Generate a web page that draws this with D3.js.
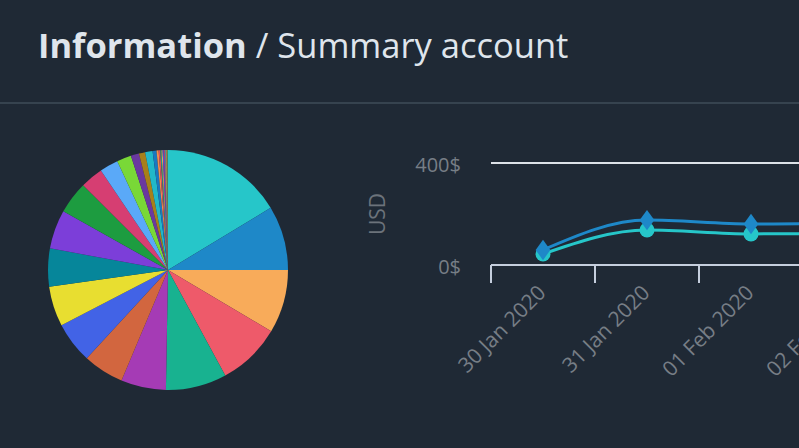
<!DOCTYPE html>
<html><head><meta charset="utf-8">
<script src="https://cdn.jsdelivr.net/npm/d3@7"></script>
<style>
body{margin:0;background:#1f2935;overflow:hidden;font-family:"Open Sans",sans-serif;}
</style></head><body>
<svg id="chart" width="799" height="448"></svg>
<script>
// pie shares (read as degrees of the circle)
var pieValues = [58.8,31.2,30.7,30.8,29.5,21.8,19.8,20,19.4,18.4,18.9,15.7,11,9,7,4,3,3.6,1.9,1,0.8,0.6,0.5,0.5,0.4,0.4,0.3,0.3,0.3,0.2,0.2];
var pieColors = ["#26c6c9","#1e88c8","#f8ab5a","#ee5a6a","#18b290","#a53bb5","#d2663f","#4263e6","#e8de30","#06869a","#7c3ed9","#1d9c40","#d63e72","#5aa9f8","#79d837","#6a38a0","#a87f1a","#22b8c8","#1a78c0","#f08f4e","#e05060","#20a080","#f8ab5a","#4263e6","#a53bb5","#ee5a6a","#26c6c9","#e8de30","#d63e72","#1e88c8","#79d837"];

var dates = ["2020-01-30","2020-01-31","2020-02-01","2020-02-02"];
var seriesA = [59,176,161,163];
var seriesB = [43,137,122,124];
var yTicks = [0,400];

var svg = d3.select("#chart");

svg.append("text").attr("x",38).attr("y",58)
  .attr("font-size",34.5).attr("fill","#dfe5ec")
  .html('<tspan font-weight="bold">Information</tspan> / Summary account');
svg.append("line").attr("x1",0).attr("x2",799).attr("y1",103).attr("y2",103)
  .attr("stroke","#36434f").attr("stroke-width",2);

// pie
var pie = d3.pie().sort(null).value(d => d);
var arc = d3.arc().innerRadius(0).outerRadius(120);
svg.append("g").attr("transform","translate(168,270)")
  .selectAll("path").data(pie(pieValues)).enter().append("path")
  .attr("d",arc).attr("fill",(d,i) => pieColors[i]);

// line chart
var parse = d3.timeParse("%Y-%m-%d");
var x = d3.scaleTime().domain([parse("2020-01-30"),parse("2020-02-03")]).range([491,907]);
var y = d3.scaleLinear().domain([0,400]).range([265,163]);
var mid = d => d3.timeHour.offset(parse(d),12);

var g = svg.append("g");
g.append("line").attr("x1",491).attr("x2",799).attr("y1",y(400)).attr("y2",y(400))
  .attr("stroke","#dde2e8").attr("stroke-width",2);
g.append("line").attr("x1",491).attr("x2",799).attr("y1",y(0)).attr("y2",y(0))
  .attr("stroke","#c5cedd").attr("stroke-width",2);
x.ticks(d3.timeDay.every(1)).forEach(function(t){
  g.append("line").attr("x1",x(t)).attr("x2",x(t)).attr("y1",y(0)).attr("y2",y(0)+18)
    .attr("stroke","#c5cedd").attr("stroke-width",2);
});
yTicks.forEach(function(v){
  g.append("text").attr("x",461).attr("y",y(v)+2).attr("dy","0.35em")
    .attr("text-anchor","end").attr("font-size",20).attr("fill","#777e86").text(v+"$");
});
g.append("text").attr("transform","translate(385,214) rotate(-90)")
  .attr("text-anchor","middle").attr("font-size",21).attr("fill","#6c737b").text("USD");
var fmt = d3.timeFormat("%d %b %Y");
dates.forEach(function(d){
  g.append("text").attr("transform","translate("+(x(mid(d))+4)+",294) rotate(-45)")
    .attr("text-anchor","end").attr("font-size",21).attr("fill","#777e86").text(fmt(parse(d)));
});

var line = d3.line().x((d,i) => x(mid(dates[i]))).y(d => y(d)).curve(d3.curveMonotoneX);
g.append("path").attr("d",line(seriesB)).attr("fill","none").attr("stroke","#26c6c9").attr("stroke-width",3);
g.append("path").attr("d",line(seriesA)).attr("fill","none").attr("stroke","#1e88c8").attr("stroke-width",3);
g.selectAll(".pb").data(seriesB).enter().append("circle")
  .attr("cx",(d,i) => x(mid(dates[i]))).attr("cy",d => y(d)).attr("r",7.5).attr("fill","#26c6c9");
g.selectAll(".pa").data(seriesA).enter().append("path")
  .attr("transform",(d,i) => "translate("+x(mid(dates[i]))+","+y(d)+") scale(1.25,1)")
  .attr("d",d3.symbol().type(d3.symbolDiamond).size(120)).attr("fill","#1e88c8");
</script></body></html>
